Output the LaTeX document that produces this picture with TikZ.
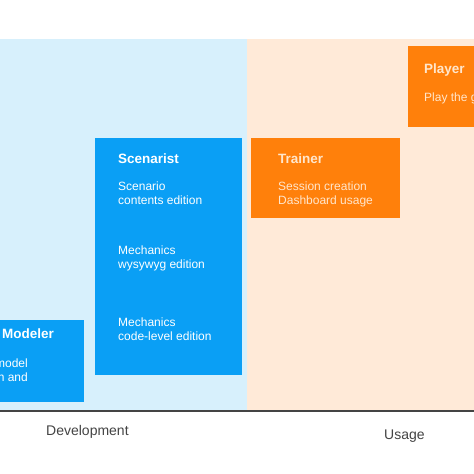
\documentclass[tikz,border=0pt]{standalone}
\usepackage{fontspec}
\setmainfont{Liberation Sans}
\begin{document}
\begin{tikzpicture}[x=1pt,y=-1pt,
  bluebox/.style={fill=devblue,draw=none},
  orangebox/.style={fill=useorange,draw=none},
  ttl/.style={anchor=base west,inner sep=0pt,font=\fontsize{13.5}{16}\selectfont\bfseries},
  body/.style={anchor=base west,inner sep=0pt,align=left,font=\fontsize{12}{14}\selectfont},
  axislabel/.style={anchor=base west,inner sep=0pt,font=\fontsize{14}{16}\selectfont,text=axisgray}]
\definecolor{devbg}{HTML}{D7F0FC}
\definecolor{usebg}{HTML}{FFEAD8}
\definecolor{devblue}{HTML}{0A9FF5}
\definecolor{useorange}{HTML}{FF800B}
\definecolor{orangetext}{HTML}{FFE6CC}
\definecolor{axisgray}{HTML}{444444}
\useasboundingbox (0,0) rectangle (474,474);
\clip (0,0) rectangle (474,474);
\fill[white] (0,0) rectangle (474,474);
\fill[devbg] (0,39) rectangle (247,410);
\fill[usebg] (247,39) rectangle (474,410);
\draw[axisgray,line width=1.5pt] (0,411) coordinate (axl) -- (474,411) coordinate (axr);
% Modeler
\fill[bluebox] (-10,320) rectangle (84,402);
\node[ttl,text=white] (modt) at (2,338) {Modeler};
\node[body,text=white,anchor=base east,align=right] (modb) at (28,381) {Data model\\definition and};
% Scenarist
\fill[bluebox] (95,138) rectangle (242,375);
\node[ttl,text=white] (scent) at (118,163) {Scenarist};
\node[body,text=white] (scen1) at (118,204) {Scenario\\contents edition};
\node[body,text=white] (scen2) at (118,268) {Mechanics\\wysywyg edition};
\node[body,text=white] (scen3) at (118,340) {Mechanics\\code-level edition};
% Trainer
\fill[orangebox] (251,138) rectangle (400,218);
\node[ttl,text=orangetext] (trt) at (278,163) {Trainer};
\node[body,text=orangetext] (trb) at (278,204) {Session creation\\Dashboard usage};
% Player
\fill[orangebox] (408,46) rectangle (490,127);
\node[ttl,text=orangetext] (plt) at (424,73) {Player};
\node[body,text=orangetext] (plb) at (424,101) {Play the game};
% axis labels
\node[axislabel] (dev) at (46,435) {Development};
\node[axislabel] (use) at (384,439) {Usage};
\end{tikzpicture}
\end{document}
